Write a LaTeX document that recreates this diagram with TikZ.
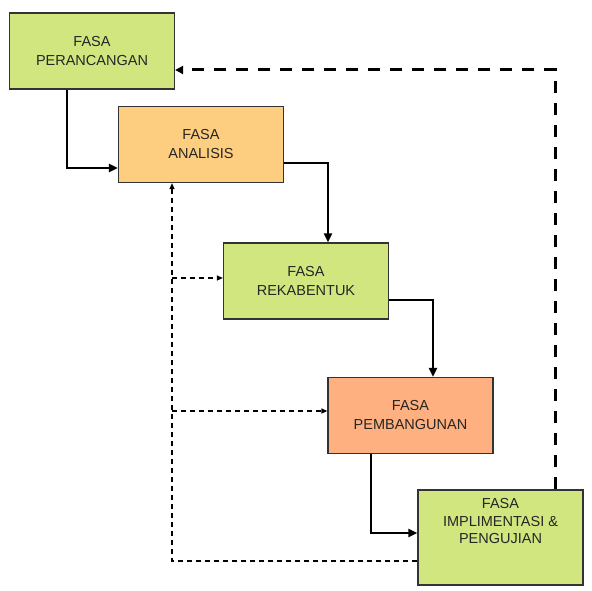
\documentclass[tikz,border=0pt]{standalone}
\usepackage{fontspec}
\setmainfont{Liberation Sans}
\usetikzlibrary{arrows.meta}

\definecolor{hijau}{RGB}{210,230,128}
\definecolor{jingga}{RGB}{253,206,128}
\definecolor{salmon}{RGB}{254,176,128}

\begin{document}
\begin{tikzpicture}[x=1pt,y=-1pt]
			\tikzstyle{fasa}=[rectangle,draw=black!80,line width=1.2pt,minimum width=165pt,minimum height=76pt,align=center,font=\fontsize{14.5}{19}\selectfont,text=black!85]
			\tikzstyle{aliran}=[line width=2.6pt,-{Triangle[length=9pt,width=8pt]}]
			\tikzstyle{ulang}=[line width=3pt,dash pattern=on 12pt off 10pt,-{Triangle[length=8pt,width=8pt]}]
			\tikzstyle{umpan}=[line width=1.2pt,dash pattern=on 5pt off 4pt,-{Triangle[length=6pt,width=5pt]}]
			\useasboundingbox (0,0) rectangle (592,591);
			
			\node[fasa,fill=hijau] (rancang) at (92,51) {FASA\\PERANCANGAN};
			\node[fasa,fill=jingga] (analisis) at (201,144.5) {FASA\\ANALISIS};
			\node[fasa,fill=hijau] (reka) at (306,281) {FASA\\REKABENTUK};
			\node[fasa,fill=salmon] (bina) at (410.5,415.5) {FASA\\PEMBANGUNAN};
			\node[fasa,fill=hijau,minimum height=95pt] (uji) at (500.5,537.5) {FASA\\[-1.5pt]IMPLIMENTASI \&\\[-1.5pt]PENGUJIAN\\[14pt]\mbox{}};
			
			\draw[aliran] ([xshift=-25pt]rancang.south) |- ([yshift=-23.5pt]analisis.west);
			\draw[aliran] ([yshift=-18.5pt]analisis.east) -| ([xshift=22pt]reka.north);
			\draw[aliran] ([yshift=-19pt]reka.east) -| ([xshift=22.5pt]bina.north);
			\draw[aliran] ([xshift=-39.5pt]bina.south) |- ([yshift=4.5pt]uji.west);
			
			\draw[ulang] ([xshift=54.5pt]uji.north) |- ([yshift=-19pt]rancang.east);
			
			\coordinate (tiang) at ([xshift=-29pt]analisis.south);
			\coordinate (masuk3) at ([yshift=3pt]reka.west);
			\coordinate (masuk4) at ([yshift=4.5pt]bina.west);
			\draw[umpan] ([yshift=-23.5pt]uji.west) -| (tiang);
			\draw[umpan] (masuk3 -| tiang) -- (masuk3);
			\draw[umpan] (masuk4 -| tiang) -- (masuk4);
			
\end{tikzpicture}
\end{document}
